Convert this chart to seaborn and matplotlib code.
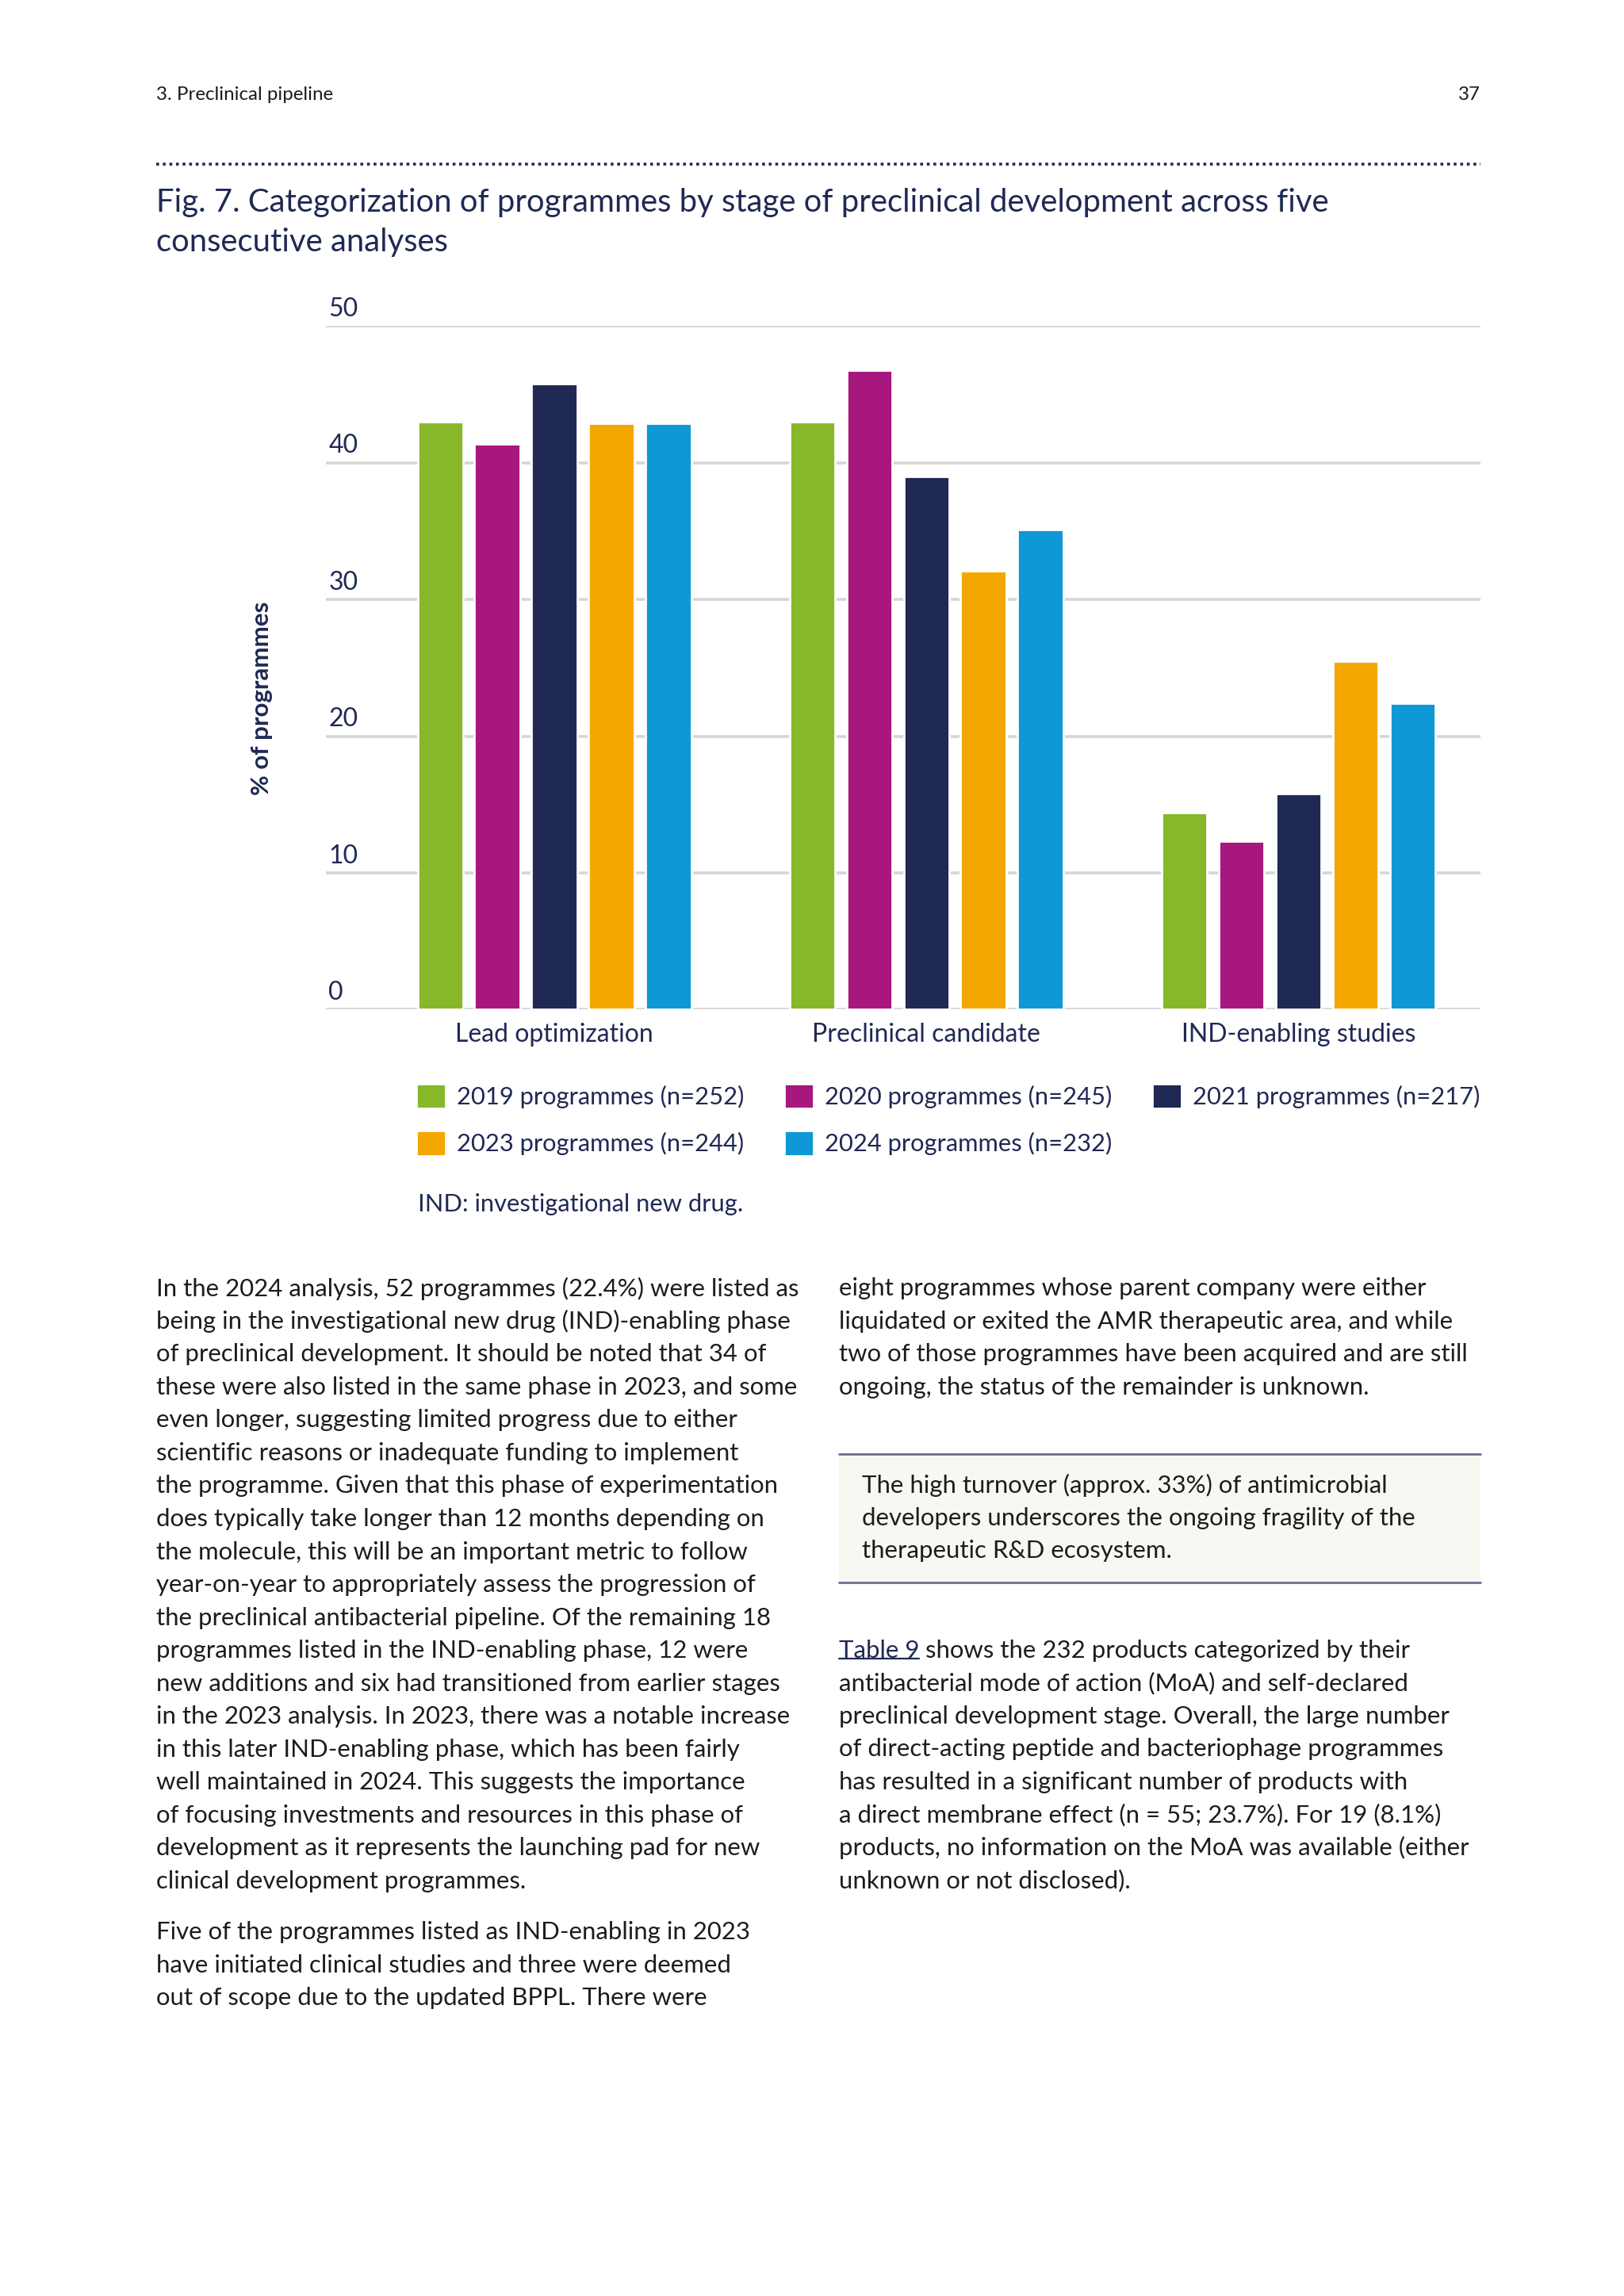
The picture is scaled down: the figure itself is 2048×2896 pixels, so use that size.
import matplotlib
matplotlib.use("Agg")
import matplotlib.pyplot as plt
import seaborn as sns
import pandas as pd
from matplotlib.lines import Line2D
from matplotlib.patches import Rectangle

# ---------------- data ----------------
stages = ["Lead optimization", "Preclinical candidate", "IND-enabling studies"]
series = ["2019 programmes (n=252)", "2020 programmes (n=245)", "2021 programmes (n=217)",
          "2023 programmes (n=244)", "2024 programmes (n=232)"]
v2019 = [43.0, 43.0, 14.4]
v2020 = [41.4, 46.8, 12.3]
v2021 = [45.8, 39.0, 15.8]
v2023 = [42.9, 32.1, 25.5]
v2024 = [42.9, 35.1, 22.4]
colors = ["#86b82a", "#a8177e", "#1f2954", "#f4a700", "#0f98d6"]
yticks = [0, 10, 20, 30, 40, 50]

NAVY = "#1f2954"
BODY = "#1c1c1c"
CFS = 11.1   # chart font size

sns.set_theme(style="white")
plt.rcParams["font.family"] = ["Lato", "DejaVu Sans"]

W, H = 2048, 2896
S = 2048 / 1100.0
fig = plt.figure(figsize=(10.24, 14.48), dpi=200)
fig.patch.set_facecolor("white")


def fx(x):
    return x * S / W


def fy(y):
    return 1 - y * S / H


# ---------------- chart ----------------
rows = []
for name, vals in zip(series, [v2019, v2020, v2021, v2023, v2024]):
    for st, v in zip(stages, vals):
        rows.append({"stage": st, "value": v, "series": name})
df = pd.DataFrame(rows)

ax = fig.add_axes([fx(221), fy(684), fx(1003) - fx(221), fy(221) - fy(684)])
sns.barplot(data=df, x="stage", y="value", hue="series", hue_order=series,
            order=stages, palette=colors, saturation=1, width=0.766, gap=0.2,
            ax=ax, errorbar=None)
ax.set_ylim(0, 50)
ax.set_xlim(-0.613, 2.49)
for s in ax.spines.values():
    s.set_visible(False)
ax.set_yticks(yticks)
ax.set_yticklabels([])
ax.tick_params(axis="y", length=0)
ax.tick_params(axis="x", length=0, pad=6, labelsize=CFS + 0.4, labelcolor=NAVY)
ax.yaxis.grid(True, color="#d6d6d6", lw=1.3)
ax.set_axisbelow(True)
ax.set_facecolor("none")
ax.set_xlabel("")
for t in yticks:
    ax.annotate(str(t), xy=(0, t), xycoords=ax.get_yaxis_transform(),
                xytext=(1, 4.5), textcoords="offset points", ha="left",
                va="baseline", fontsize=CFS + 0.4, color=NAVY)
ax.set_ylabel("% of programmes", fontsize=11.3, fontweight="bold", color=NAVY)
ax.yaxis.set_label_coords(-0.046, 0.456)

handles, labels = ax.get_legend_handles_labels()
ax.get_legend().remove()
order = [0, 3, 1, 4, 2]
fig.legend([handles[i] for i in order], [labels[i] for i in order],
           loc="upper left", bbox_to_anchor=(fx(282), fy(734)), ncol=3,
           frameon=False, fontsize=CFS, handlelength=1.2, handleheight=1.2,
           handletextpad=0.45, columnspacing=1.65, labelspacing=0.9,
           borderaxespad=0, borderpad=0, labelcolor=NAVY)

fig.text(fx(283), fy(816), "IND: investigational new drug.", fontsize=CFS,
         color=NAVY, va="center", ha="left")

# ---------------- page furniture ----------------
fig.text(fx(106), fy(64), "3. Preclinical pipeline", fontsize=8.7, color=BODY,
         va="center", ha="left")
fig.text(fx(1003), fy(64), "37", fontsize=8.7, color=BODY, va="center", ha="right")
fig.add_artist(Line2D([fx(106), fx(1003)], [fy(111), fy(111)], color=NAVY,
                      lw=1.3, dashes=(1, 1.3), transform=fig.transFigure))
fig.text(fx(106), fy(137), "Fig. 7. Categorization of programmes by stage of preclinical development across five",
         fontsize=14.4, color=NAVY, va="center", ha="left")
fig.text(fx(106), fy(164), "consecutive analyses", fontsize=14.4, color=NAVY,
         va="center", ha="left")

left_p1 = [
    "In the 2024 analysis, 52 programmes (22.4%) were listed as",
    "being in the investigational new drug (IND)-enabling phase",
    "of preclinical development. It should be noted that 34 of",
    "these were also listed in the same phase in 2023, and some",
    "even longer, suggesting limited progress due to either",
    "scientific reasons or inadequate funding to implement",
    "the programme. Given that this phase of experimentation",
    "does typically take longer than 12 months depending on",
    "the molecule, this will be an important metric to follow",
    "year-on-year to appropriately assess the progression of",
    "the preclinical antibacterial pipeline. Of the remaining 18",
    "programmes listed in the IND-enabling phase, 12 were",
    "new additions and six had transitioned from earlier stages",
    "in the 2023 analysis. In 2023, there was a notable increase",
    "in this later IND-enabling phase, which has been fairly",
    "well maintained in 2024. This suggests the importance",
    "of focusing investments and resources in this phase of",
    "development as it represents the launching pad for new",
    "clinical development programmes.",
]
left_p2 = [
    "Five of the programmes listed as IND-enabling in 2023",
    "have initiated clinical studies and three were deemed",
    "out of scope due to the updated BPPL. There were",
]
right_p1 = [
    "eight programmes whose parent company were either",
    "liquidated or exited the AMR therapeutic area, and while",
    "two of those programmes have been acquired and are still",
    "ongoing, the status of the remainder is unknown.",
]
box_lines = [
    "The high turnover (approx. 33%) of antimicrobial",
    "developers underscores the ongoing fragility of the",
    "therapeutic R&D ecosystem.",
]
right_p2 = [
    " shows the 232 products categorized by their",
    "antibacterial mode of action (MoA) and self-declared",
    "preclinical development stage. Overall, the large number",
    "of direct-acting peptide and bacteriophage programmes",
    "has resulted in a significant number of products with",
    "a direct membrane effect (n = 55; 23.7%). For 19 (8.1%)",
    "products, no information on the MoA was available (either",
    "unknown or not disclosed).",
]

LS = 22.3
BFS = 11.2


def para(lines, x, y0):
    for i, ln in enumerate(lines):
        fig.text(fx(x), fy(y0 + i * LS), ln, fontsize=BFS, color=BODY,
                 va="center", ha="left")


para(left_p1, 106, 873)
para(left_p2, 106, 1309)
para(right_p1, 568, 873)

fig.add_artist(Rectangle((fx(568), fy(1072)), fx(1003) - fx(568), fy(985) - fy(1072),
                         transform=fig.transFigure, facecolor="#f8f8f3",
                         edgecolor="none", zorder=0))
for yy in (985, 1072):
    fig.add_artist(Line2D([fx(568), fx(1003)], [fy(yy), fy(yy)], color="#6a7090",
                          lw=1.0, transform=fig.transFigure))
para(box_lines, 584, 1006)

t9 = fig.text(fx(568), fy(1118), "Table 9", fontsize=BFS, color=NAVY,
              va="center", ha="left")
fig.canvas.draw()
bb = t9.get_window_extent().transformed(fig.transFigure.inverted())
fig.add_artist(Line2D([bb.x0, bb.x1], [bb.y0 + 0.0012, bb.y0 + 0.0012], color=NAVY,
                      lw=0.8, transform=fig.transFigure))
fig.text(bb.x1, fy(1118), right_p2[0], fontsize=BFS, color=BODY, va="center", ha="left")
para(right_p2[1:], 568, 1118 + LS)

fig.savefig("out.png", dpi=200, facecolor="white")
